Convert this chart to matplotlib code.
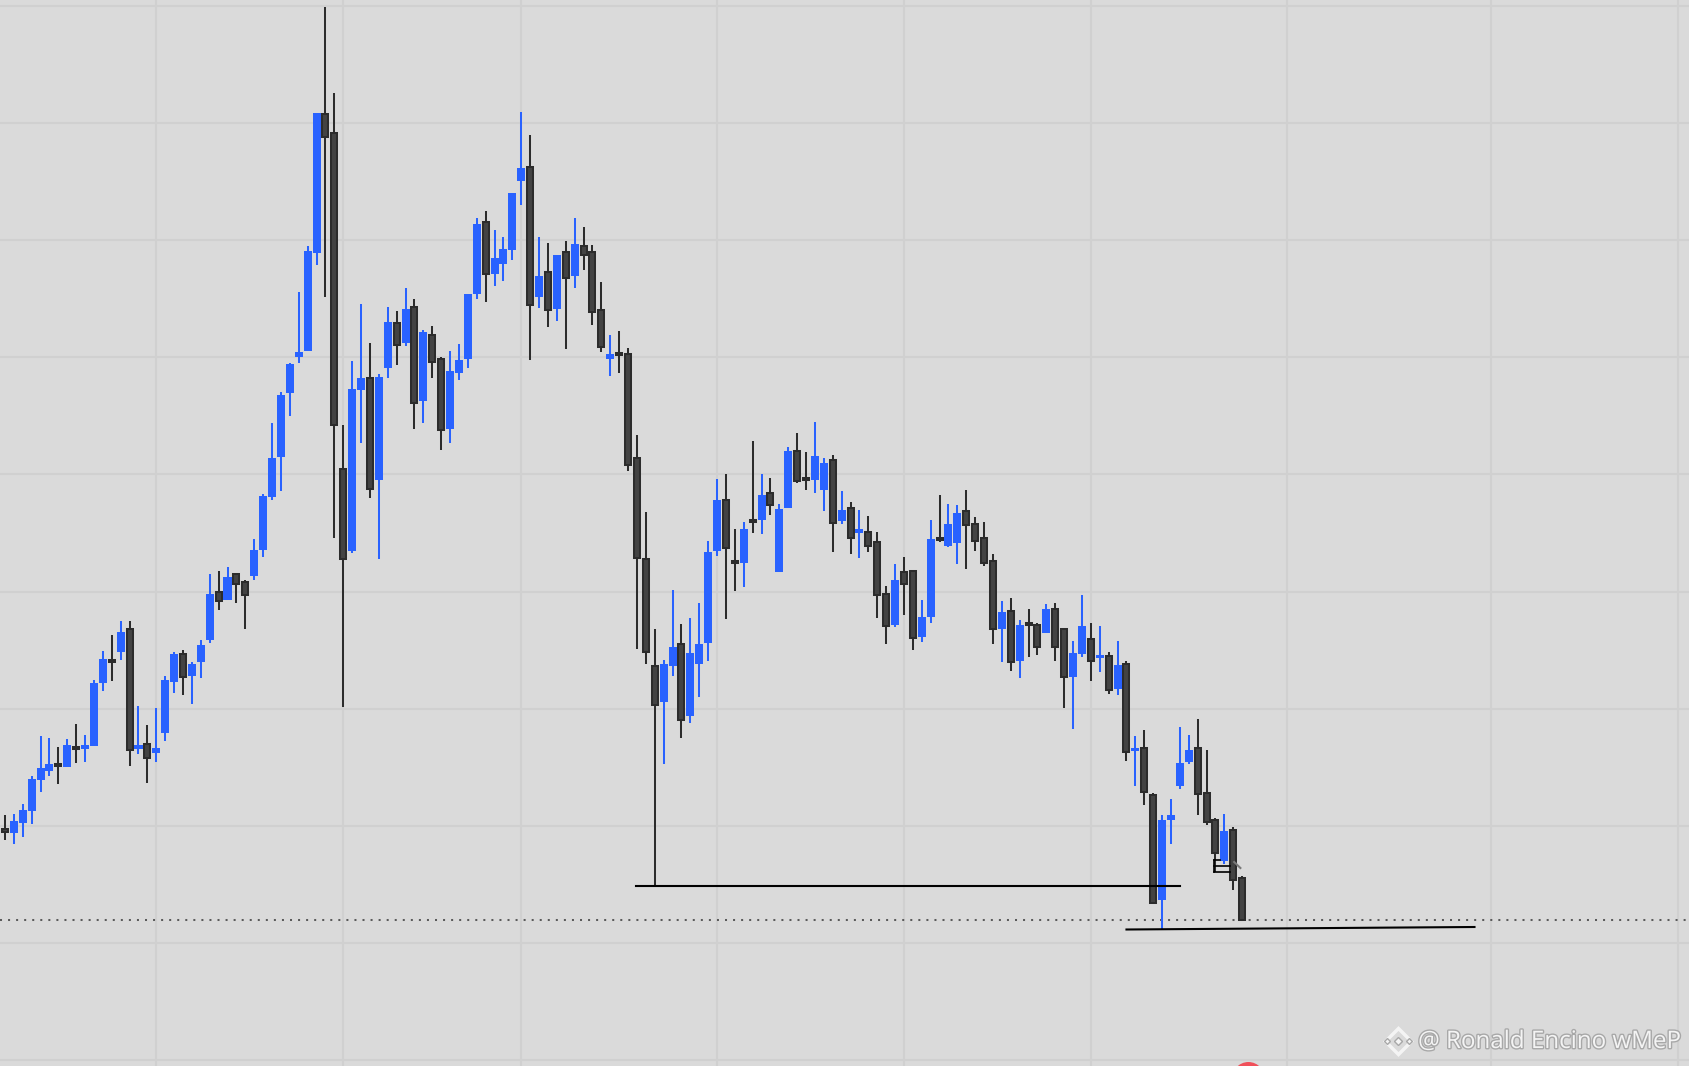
import matplotlib
matplotlib.use("Agg")
import matplotlib.pyplot as plt
import matplotlib.patheffects as pe
from matplotlib.patches import Rectangle, Ellipse
import numpy as np

# candle values (arbitrary price units)
opens = [171, 167, 177, 189, 220, 229, 236, 233, 253, 251,
         254, 317, 340, 348, 371, 251, 256, 247, 267, 318,
         346, 324, 338, 360, 408, 400, 426, 418, 424, 450,
         503, 543, 607, 643, 649, 747, 886, 867, 531, 449,
         610, 622, 520, 632, 677, 657, 693, 599, 665, 641,
         571, 627, 641, 706, 778, 726, 736, 750, 819, 833,
         703, 728, 691, 748, 724, 754, 748, 690, 641, 647,
         646, 542, 441, 334, 298, 334, 356, 284, 336, 357,
         449, 500, 439, 437, 480, 480, 507, 428, 492, 549,
         522, 520, 510, 540, 479, 492, 467, 468, 458, 406,
         375, 428, 429, 363, 383, 462, 454, 457, 489, 476,
         462, 439, 371, 389, 339, 377, 375, 367, 391, 371,
         323, 346, 361, 342, 344, 311, 336, 249, 252, 205,
         100, 180, 214, 238, 252, 207, 180, 139, 170, 122]
closes = [168, 179, 190, 221, 232, 236, 234, 255, 251, 255,
          317, 341, 338, 368, 250, 255, 242, 252, 320, 346,
          323, 336, 355, 406, 399, 423, 416, 405, 450, 504,
          542, 605, 636, 648, 749, 887, 863, 575, 441, 611,
          622, 511, 623, 678, 655, 691, 597, 668, 638, 570,
          629, 640, 706, 776, 726, 742, 751, 807, 832, 695,
          724, 690, 745, 722, 756, 745, 688, 653, 646, 645,
          535, 442, 348, 295, 336, 353, 280, 347, 356, 448,
          500, 452, 437, 471, 478, 505, 495, 491, 549, 519,
          520, 544, 537, 477, 490, 462, 471, 454, 405, 374,
          420, 416, 362, 383, 461, 460, 476, 487, 475, 459,
          437, 371, 388, 338, 375, 375, 353, 391, 353, 323,
          347, 374, 339, 344, 310, 335, 248, 251, 208, 97,
          180, 185, 237, 250, 206, 178, 147, 169, 120, 80]
highs = [185, 186, 196, 224, 264, 262, 253, 261, 276, 265,
         320, 349, 365, 379, 379, 294, 275, 292, 324, 348,
         350, 338, 360, 426, 429, 433, 427, 420, 461, 506,
         577, 608, 637, 708, 754, 887, 993, 907, 575, 639,
         696, 657, 626, 693, 689, 712, 701, 670, 674, 643,
         649, 656, 706, 782, 789, 770, 763, 807, 888, 865,
         763, 757, 745, 759, 782, 773, 755, 718, 665, 669,
         652, 565, 488, 371, 340, 410, 376, 382, 397, 459,
         521, 526, 471, 478, 559, 526, 522, 496, 553, 567,
         548, 578, 542, 545, 509, 498, 490, 484, 468, 414,
         436, 443, 430, 400, 480, 505, 496, 495, 510, 483,
         478, 446, 399, 402, 380, 391, 377, 396, 397, 372,
         359, 405, 377, 374, 348, 359, 339, 264, 270, 207,
         185, 201, 273, 265, 281, 250, 182, 186, 173, 124]
lows = [160, 156, 163, 176, 208, 224, 216, 233, 237, 238,
        254, 309, 319, 340, 234, 246, 217, 238, 259, 307,
        305, 296, 322, 357, 390, 400, 397, 371, 420, 443,
        500, 509, 584, 637, 649, 735, 703, 462, 293, 447,
        557, 502, 441, 622, 635, 654, 571, 577, 622, 550,
        557, 620, 632, 701, 698, 714, 719, 740, 795, 640,
        692, 673, 679, 651, 712, 730, 675, 648, 624, 627,
        529, 351, 336, 114, 236, 324, 262, 277, 303, 339,
        444, 381, 409, 413, 467, 466, 485, 428, 492, 517,
        510, 507, 489, 448, 476, 446, 442, 448, 382, 356,
        373, 385, 350, 358, 377, 458, 453, 436, 431, 449,
        434, 356, 338, 329, 322, 343, 345, 367, 339, 292,
        271, 343, 319, 328, 306, 305, 239, 214, 195, 96,
        70, 156, 211, 236, 185, 175, 128, 136, 110, 80]

# drawn lines: (x0, y0, x1, y1) in bar index / price
support_line = (70.9, 114, 132.0, 114)
low_line = (126.0, 70.5, 165.1, 73)
last_price = closes[-1]
month_bars = [17, 38, 58, 80, 101, 122, 144, 167, 188]

BG = "#dadada"
GRID = "#d0d0d0"
UP = "#2962ff"
DOWN_FACE = "#434343"
DOWN_EDGE = "#2c2c2c"

fig = plt.figure(figsize=(16.89, 10.66), dpi=100)
fig.patch.set_facecolor(BG)
ax = fig.add_axes([0, 0, 1, 1])
ax.set_facecolor(BG)
ax.set_xlim(-0.56, 189.2)
ax.set_ylim(-66, 1000)

# grid
for gy in np.arange(994, -70, -117.1):
    ax.axhline(gy, color=GRID, lw=1.5, zorder=0)
for gx in month_bars:
    ax.axvline(gx, color=GRID, lw=1.5, zorder=0)

# candles
for i in range(len(opens)):
    o, c, h, l = opens[i], closes[i], highs[i], lows[i]
    if c >= o:
        ax.vlines(i, l, h, color=UP, lw=1.45, zorder=2)
        hgt = max(c - o, 3)
        ax.add_patch(Rectangle((i - 0.45, o), 0.9, hgt, facecolor=UP,
                               edgecolor="none", zorder=3))
    else:
        ax.vlines(i, l, h, color=DOWN_EDGE, lw=1.45, zorder=2)
        hgt = max(o - c, 1)
        ax.add_patch(Rectangle((i - 0.337, c), 0.674, hgt, facecolor=DOWN_FACE,
                               edgecolor=DOWN_EDGE, lw=1.45, zorder=3))

# user drawings
ax.plot([support_line[0], support_line[2]], [support_line[1], support_line[3]],
        color="black", lw=1.5, zorder=4)
ax.plot([low_line[0], low_line[2]], [low_line[1], low_line[3]],
        color="black", lw=1.5, zorder=4)
ax.axhline(last_price, color="#5a5a5a", lw=1.45, ls=(0, (1, 3)), zorder=1)

# small box near the last bars
ax.plot([135.85, 137.6], [134, 134], color="black", lw=1.2, zorder=5)
ax.plot([135.85, 137.6], [128, 128], color="black", lw=1.2, zorder=5)
ax.plot([135.85, 136.5], [140, 140], color="black", lw=1.2, zorder=5)
ax.plot([135.85, 135.85], [128, 140], color="black", lw=1.2, zorder=5)
ax.plot([138.1, 138.8], [138, 132], color="#7a7a7a", lw=1.5, zorder=5)

# red marker peeking at the bottom
ax.add_patch(Ellipse((139.7, -82), 4.0, 40, facecolor="#f0505a",
                     edgecolor="none", zorder=5))

# watermark
wm = ax.text(0.8396, 0.0225, "@ Ronald Encino wMeP", transform=ax.transAxes,
             fontsize=17.4, family="Open Sans", color="#f4f4f4",
             ha="left", va="center", zorder=6)
wm.set_path_effects([pe.withStroke(linewidth=2, foreground="#a8a8a8")])
ax.plot([0.8277], [0.0235], marker="D", ms=13, mfc="none", mec="#f4f4f4",
        mew=2.5, transform=ax.transAxes, zorder=6)
ax.plot([0.8277], [0.0235], marker="D", ms=4, mfc="#f4f4f4", mec="#a8a8a8",
        transform=ax.transAxes, zorder=6)
ax.plot([0.8213, 0.8341], [0.0235, 0.0235], ls="none", marker="D", ms=3,
        mfc="#f4f4f4", mec="#a8a8a8", transform=ax.transAxes, zorder=6)

ax.axis("off")
fig.savefig("out.png", dpi=100, facecolor=BG)
